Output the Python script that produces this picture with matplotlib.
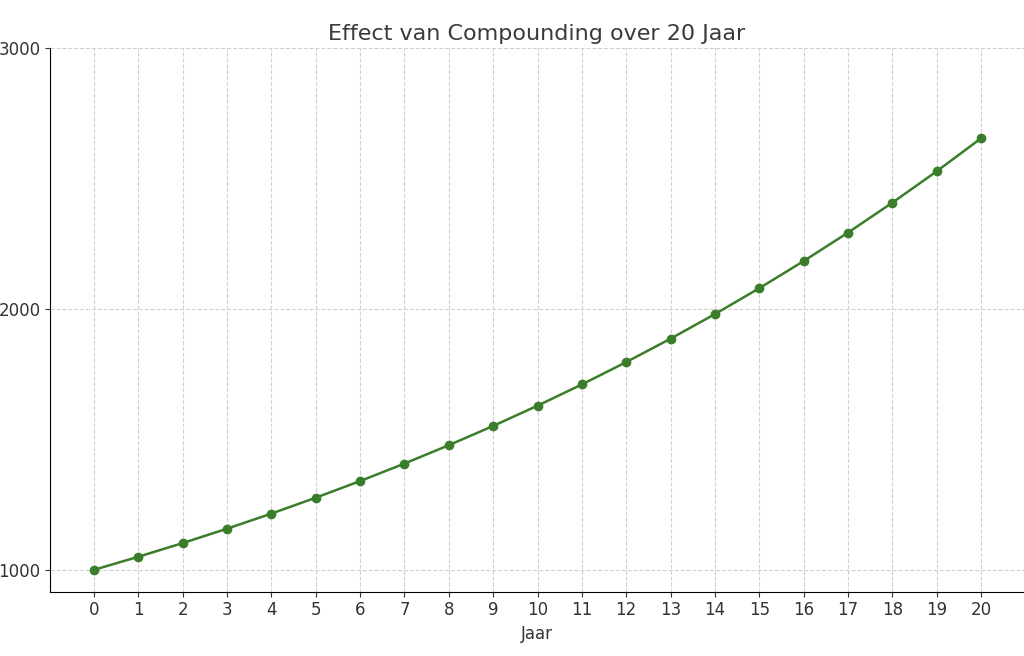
import matplotlib
matplotlib.use("Agg")
import matplotlib.pyplot as plt

years = list(range(21))
values = [1000, 1050, 1102.5, 1157.6, 1215.5, 1276.3, 1340.1, 1407.1, 1477.5, 1551.3,
          1628.9, 1710.3, 1795.9, 1885.6, 1979.9, 2078.9, 2182.9, 2292.0, 2406.6, 2527.0, 2653.3]
yticks = [1000, 2000, 3000]

fig = plt.figure(figsize=(10.24, 6.56), dpi=100)
ax = fig.add_axes([0.049, 0.098, 0.951, 0.829])
ax.plot(years, values, color="#3a7d2a", marker="o", markersize=6, linewidth=1.8)
ax.set_xlim(-0.99, 20.97)
ax.set_ylim(916, 3000)
ax.set_xticks(years)
ax.set_yticks(yticks)
ax.grid(True, linestyle="--", color="#d0d0d0", linewidth=0.8)
for s in ["top", "right"]:
    ax.spines[s].set_visible(False)
ax.tick_params(labelsize=12, colors="#333333")
ax.set_xlabel("Jaar", fontsize=12, color="#333333")
ax.set_title("Effect van Compounding over 20 Jaar", fontsize=16, color="#3a3a3a", pad=6)
fig.savefig("out.png", dpi=100)
